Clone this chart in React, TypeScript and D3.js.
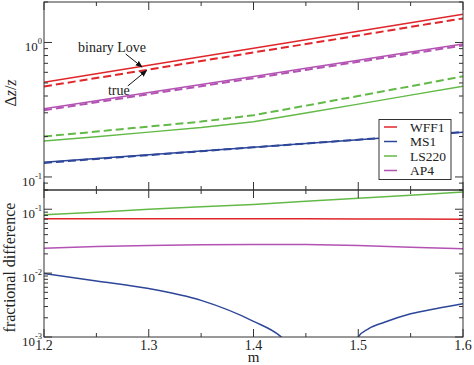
import * as d3 from "d3";

// neutron star mass grid
const mass = [1.2, 1.25, 1.3, 1.35, 1.4, 1.45, 1.5, 1.55, 1.6];

// upper panel: delta z / z, solid = binary Love, dashed = true
const wff1Love = [0.506, 0.585, 0.676, 0.783, 0.906, 1.047, 1.211, 1.403, 1.622];
const wff1True = [0.471, 0.544, 0.629, 0.728, 0.843, 0.974, 1.126, 1.306, 1.51];
const ms1Love = [0.1285, 0.1371, 0.1462, 0.156, 0.1663, 0.1774, 0.1892, 0.2018, 0.2153];
const ms1True = [0.1272, 0.1361, 0.1454, 0.1554, 0.166, 0.1773, 0.1893, 0.2022, 0.216];
const ls220Love = [0.185, 0.1995, 0.2155, 0.233, 0.2577, 0.299, 0.348, 0.406, 0.472];
const ls220True = [0.2, 0.2175, 0.237, 0.258, 0.288, 0.339, 0.4, 0.473, 0.56];
const ap4Love = [0.321, 0.369, 0.424, 0.487, 0.559, 0.643, 0.738, 0.848, 0.973];
const ap4True = [0.313, 0.359, 0.413, 0.473, 0.543, 0.625, 0.718, 0.826, 0.95];

// lower panel: fractional difference
const wff1Frac = [0.071, 0.0712, 0.0712, 0.0711, 0.071, 0.0708, 0.0706, 0.0702, 0.0698];
const ls220Frac = [0.082, 0.09, 0.1, 0.109, 0.119, 0.133, 0.148, 0.166, 0.186];
const ap4Frac = [0.0245, 0.026, 0.027, 0.0278, 0.028, 0.028, 0.027, 0.0255, 0.024];
// MS1 changes sign between ~1.43 and 1.5, so it drops out of the log axis there
const ms1FracMassA = [1.2, 1.25, 1.3, 1.35, 1.4, 1.425, 1.44];
const ms1FracA = [0.0099, 0.00755, 0.00573, 0.00374, 0.00176, 0.00105, 0.0006];
const ms1FracMassB = [1.495, 1.5, 1.51, 1.525, 1.55, 1.575, 1.6];
const ms1FracB = [0.0006, 0.001, 0.00135, 0.0017, 0.00231, 0.0028, 0.00332];

const eosNames = ["WFF1", "MS1", "LS220", "AP4"];
const eosColors = ["#e0262b", "#2d4699", "#63b947", "#b352b3"];

const xTickLabels = ["1.2", "1.3", "1.4", "1.5", "1.6"];

const W = 474, H = 365;
const left = 44, right = 463, top = 2, mid = 190, bottom = 337;
const serif = "'Liberation Serif', 'DejaVu Serif', serif";

const App = () => {
  const x = d3.scaleLinear().domain([1.2, 1.6]).range([left, right]);
  const yUp = d3.scaleLog().domain([0.08, 2]).range([mid, top]);
  const yLo = d3.scaleLog().domain([0.001, 0.2]).range([bottom, mid]);

  const lineUp = d3.line<number>().x((d, i) => x(mass[i])).y((d) => yUp(d));
  const lineLo = d3.line<number>().x((d, i) => x(mass[i])).y((d) => yLo(d));
  const lineMs1 = (ms: number[]) =>
    d3.line<number>().x((d, i) => x(ms[i])).y((d) => yLo(d)).curve(d3.curveMonotoneX);

  const upper = [
    [wff1Love, wff1True],
    [ms1Love, ms1True],
    [ls220Love, ls220True],
    [ap4Love, ap4True],
  ];
  const lower = [wff1Frac, null, ls220Frac, ap4Frac];

  const xt = x.ticks(8);
  const tickStroke = "#333";

  const yTicks = (scale: any, y0: number, y1: number, key: string) =>
    scale.ticks().filter((t: number) => scale(t) >= y1 - 0.5 && scale(t) <= y0 + 0.5).map((t: number, i: number) => {
      const major = Math.abs(Math.log10(t) - Math.round(Math.log10(t))) < 1e-6;
      const len = major ? 8 : 4;
      const yy = scale(t);
      return (
        <g key={key + i}>
          <line x1={left} x2={left + len} y1={yy} y2={yy} stroke={tickStroke} />
          <line x1={right} x2={right - len} y1={yy} y2={yy} stroke={tickStroke} />
        </g>
      );
    });

  const xTicks = (yEdge: number, dir: number, key: string) =>
    xt.map((t, i) => {
      const len = i % 2 === 0 ? 8 : 4;
      return <line key={key + i} x1={x(t)} x2={x(t)} y1={yEdge} y2={yEdge + dir * len} stroke={tickStroke} />;
    });

  const powLabel = (yy: number, exp: string, key: string) => (
    <text key={key} x={42} y={yy + 9} textAnchor="end" fontSize={13} fontFamily={serif} fill="#222">
      10<tspan dy={-7} fontSize={8.5}>{exp}</tspan>
    </text>
  );

  // annotations in data coordinates (mass, delta z / z)
  const notes = [
    { text: "binary Love", tm: 1.2325, tv: 0.85, am: 1.278, av: 0.821, pm: 1.2936, pv: 0.657 },
    { text: "true", tm: 1.261, tv: 0.41, am: 1.28, av: 0.475, pm: 1.298, pv: 0.619 },
  ];

  return (
    <svg width={W} height={H} style={{ position: "absolute", left: 0, top: 0, background: "#fff" }}>
      <defs>
        <clipPath id="clipUp"><rect x={left} y={top} width={right - left} height={mid - top} /></clipPath>
        <clipPath id="clipLo"><rect x={left} y={mid} width={right - left} height={bottom - mid} /></clipPath>
        <marker id="arrow" viewBox="0 0 10 10" refX={9} refY={5} markerWidth={7} markerHeight={7} orient="auto">
          <path d="M0,1 L10,5 L0,9 Z" fill="#111" />
        </marker>
      </defs>

      {/* upper panel lines */}
      <g clipPath="url(#clipUp)" fill="none">
        {upper.map((pair, k) => (
          <g key={"u" + k}>
            <path d={lineUp(pair[0]) || ""} stroke={eosColors[k]} strokeWidth={1.5} />
            <path d={lineUp(pair[1]) || ""} stroke={eosColors[k]} strokeWidth={2} strokeDasharray="8,4" />
          </g>
        ))}
      </g>

      {/* lower panel lines */}
      <g clipPath="url(#clipLo)" fill="none">
        {lower.map((s, k) =>
          s ? <path key={"l" + k} d={lineLo(s) || ""} stroke={eosColors[k]} strokeWidth={1.5} /> : null
        )}
        <path d={lineMs1(ms1FracMassA)(ms1FracA) || ""} stroke={eosColors[1]} strokeWidth={1.5} />
        <path d={lineMs1(ms1FracMassB)(ms1FracB) || ""} stroke={eosColors[1]} strokeWidth={1.5} />
      </g>

      {/* frames */}
      <rect x={left} y={top} width={right - left} height={mid - top} fill="none" stroke="#333" />
      <rect x={left} y={mid} width={right - left} height={bottom - mid} fill="none" stroke="#333" />

      {/* ticks */}
      {yTicks(yUp, mid, top, "yu")}
      {yTicks(yLo, bottom, mid, "yl")}
      {xTicks(top, 1, "xt")}
      {xTicks(mid, -1, "xm1")}
      {xTicks(mid, 1, "xm2")}
      {xTicks(bottom, -1, "xb")}

      {/* y tick labels */}
      {powLabel(yUp(1), "0", "p0")}
      {powLabel(yUp(0.1), "-1", "p1")}
      {powLabel(yLo(0.1), "-1", "p2")}
      {powLabel(yLo(0.01), "-2", "p3")}
      {powLabel(yLo(0.001), "-3", "p4")}

      {/* x tick labels */}
      {xTickLabels.map((l) => (
        <text key={l} x={x(+l)} y={350} textAnchor="middle" fontSize={14} fontFamily={serif} fill="#222">{l}</text>
      ))}
      <text x={x(1.4)} y={362} textAnchor="middle" fontSize={15} fontFamily={serif} fill="#222">m</text>

      {/* axis titles */}
      <text transform={`translate(16,${(top + mid) / 2 - 3}) rotate(-90)`} textAnchor="middle" fontSize={16} fontFamily={serif} fill="#222">
        Δ<tspan fontStyle="italic">z</tspan>/<tspan fontStyle="italic">z</tspan>
      </text>
      <text transform={`translate(15,${(mid + bottom) / 2 + 4}) rotate(-90)`} textAnchor="middle" fontSize={16} fontFamily={serif} fill="#222">
        fractional difference
      </text>

      {/* annotations */}
      {notes.map((n) => (
        <g key={n.text}>
          <text x={x(n.tm)} y={yUp(n.tv)} fontSize={14} fontFamily={serif} fill="#222">{n.text}</text>
          <line x1={x(n.am)} y1={yUp(n.av)} x2={x(n.pm)} y2={yUp(n.pv)} stroke="#111" strokeWidth={1} markerEnd="url(#arrow)" />
        </g>
      ))}

      {/* legend */}
      <g>
        <rect x={379} y={119.5} width={72} height={60} fill="#fff" stroke="#333" />
        {eosNames.map((name, k) => (
          <g key={name} transform={`translate(384,${131.5 + k * 14.5})`}>
            <line x1={0} x2={13} y1={-4.5} y2={-4.5} stroke={eosColors[k]} strokeWidth={1.5} />
            <text x={26} y={0} fontSize={13.5} fontFamily={serif} fill="#222">{name}</text>
          </g>
        ))}
      </g>
    </svg>
  );
};

export default App;
